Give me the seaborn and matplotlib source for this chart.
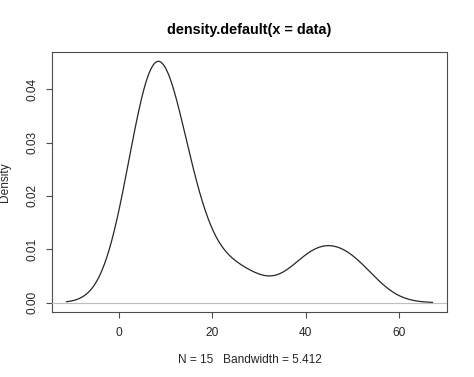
import numpy as np
import matplotlib
matplotlib.use('Agg')
import matplotlib.pyplot as plt
import seaborn as sns

# observations read back from the density shape (N = 15)
data = [5.0, 5.4, 6.1, 6.8, 7.6, 8.3, 9.1, 10.1, 11.5, 13.6, 17.6, 26.3, 39.8, 45.0, 51.0]
bandwidth = 5.412

xticks = [0, 20, 40, 60]
yticks = [0.00, 0.01, 0.02, 0.03, 0.04]
ytick_labels = ['0.00', '0.01', '0.02', '0.03', '0.04']

title = 'density.default(x = data)'
xlabel = 'N = 15   Bandwidth = 5.412'
ylabel = 'Density'

sns.set_style('ticks')
plt.rcParams['font.family'] = ['Liberation Sans', 'DejaVu Sans']

ink = '#262626'
box = '#4d4d4d'

fig = plt.figure(figsize=(4.74, 3.77), dpi=100)
ax = fig.add_axes([0.109, 0.1716, 0.8347, 0.6913])

x = np.array(data)
# seaborn scales the kernel by the sample sd, so turn the R bandwidth into a factor
sns.kdeplot(x=x, bw_method=bandwidth / x.std(ddof=1), cut=3, gridsize=512,
            color=ink, linewidth=0.9, ax=ax)

# R style limits: 4% padding around the curve
line = ax.lines[0]
xs, ys = line.get_xdata(), line.get_ydata()
xpad = 0.04 * (xs.max() - xs.min())
ax.set_xlim(xs.min() - xpad, xs.max() + xpad)
ax.set_ylim(-0.04 * ys.max(), 1.04 * ys.max())

ax.axhline(0, color='#bebebe', linewidth=0.8, zorder=3)

ax.set_xticks(xticks)
ax.set_yticks(yticks, labels=ytick_labels)
ax.tick_params(axis='both', length=4.3, width=0.8, color=box, labelsize=8.6, labelcolor=ink)
ax.tick_params(axis='x', pad=6.2)
ax.tick_params(axis='y', pad=5.5, labelrotation=90)
for lab in ax.get_yticklabels():
    lab.set_verticalalignment('center')

for s in ax.spines.values():
    s.set_visible(True)
    s.set_color(box)
    s.set_linewidth(0.8)

ax.set_title(title, fontsize=10.4, fontweight='bold', color='black', pad=13)
ax.set_xlabel(xlabel, fontsize=8.6, color=ink, labelpad=11)
ax.set_ylabel(ylabel, fontsize=8.6, color=ink, labelpad=11)

fig.savefig('out.png', dpi=100, facecolor='white')
